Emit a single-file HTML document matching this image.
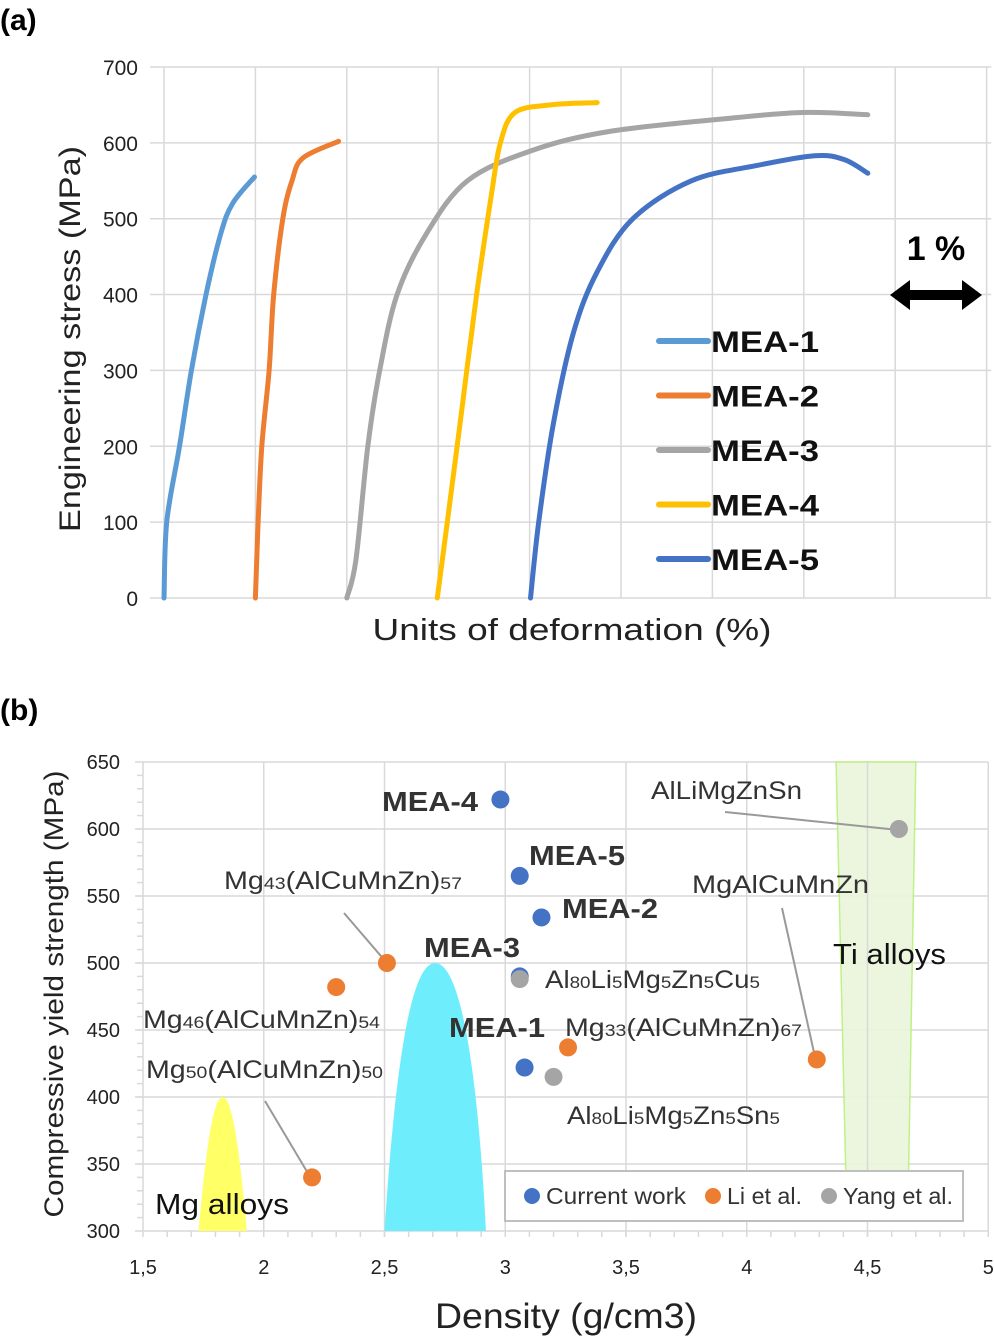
<!DOCTYPE html>
<html><head><meta charset="utf-8"><style>
html,body{margin:0;padding:0;background:#fff}
svg{display:block;font-family:"Liberation Sans",sans-serif}
</style></head><body>
<svg id="fig" width="994" height="1337" viewBox="0 0 994 1337">
<g id="pa"></g>
<g id="pb"></g>
</svg>
<script>
// ---------- Panel (a) data ----------
const aSeriesNames = ["MEA-1","MEA-2","MEA-3","MEA-4","MEA-5"];
const aStrain1 = [0,0.03,0.17,0.30,0.46,0.62,0.75,0.99];
const aStress1 = [0,100,200,300,400,480,520,555];
const aStrain2 = [1.0,1.03,1.07,1.15,1.20,1.30,1.40,1.52,1.91];
const aStress2 = [0,100,200,300,400,500,550,580,602];
const aStrain3 = [2.0,2.1,2.23,2.36,2.55,2.87,3.32,4.03,4.87,6.15,6.99,7.70];
const aStress3 = [0,50,200,300,400,480,550,590,615,632,640,637];
const aStrain4 = [2.99,3.10,3.26,3.42,3.58,3.68,3.84,4.23,4.74];
const aStress4 = [0,100,250,400,530,600,640,650,653];
const aStrain5 = [4.01,4.10,4.26,4.48,4.74,5.13,5.77,6.48,7.12,7.44,7.70];
const aStress5 = [0,100,230,350,430,500,550,570,583,578,560];
const aYTicks = [0,100,200,300,400,500,600,700];
// ---------- Panel (b) data ----------
const bXTicks = [1.5,2,2.5,3,3.5,4,4.5,5];
const bXTickLabels = ["1,5","2","2,5","3","3,5","4","4,5","5"];
const bYTicks = [300,350,400,450,500,550,600,650];
const bCurrentDensity = [2.98,3.06,3.15,3.06,3.08];
const bCurrentStrength = [622,565,534,490,422];
const bLiDensity = [2.51,2.30,3.26,4.29,2.20];
const bLiStrength = [500,482,437,428,340];
const bYangDensity = [4.63,3.06,3.20];
const bYangStrength = [600,488,415];

const NS="http://www.w3.org/2000/svg";
function mk(parent,tag,attrs,text){const e=document.createElementNS(NS,tag);for(const k in attrs)e.setAttribute(k,attrs[k]);if(text!==undefined)e.textContent=text;parent.appendChild(e);return e;}
function smooth(P){let d='M'+P[0][0].toFixed(1)+','+P[0][1].toFixed(1);
for(let i=0;i<P.length-1;i++){const p0=P[i-1]||P[i],p1=P[i],p2=P[i+1],p3=P[i+2]||p2;
const c1=[p1[0]+(p2[0]-p0[0])/6,p1[1]+(p2[1]-p0[1])/6],c2=[p2[0]-(p3[0]-p1[0])/6,p2[1]-(p3[1]-p1[1])/6];
d+=` C${c1[0].toFixed(1)},${c1[1].toFixed(1)} ${c2[0].toFixed(1)},${c2[1].toFixed(1)} ${p2[0].toFixed(1)},${p2[1].toFixed(1)}`;}
return d;}

// ===== Panel A =====
const pa=document.getElementById('pa');
const ax=v=>164+v*91.4, ay=v=>598-v*0.7586;
let t=mk(pa,'text',{x:0,y:30,'font-size':30,'font-weight':'bold'},'(a)');


for(let i=1;i<=9;i++){let l=mk(pa,'line',{x1:ax(i),x2:ax(i),y1:ay(700),y2:ay(0),stroke:'#d9d9d9','stroke-width':1.5});

}
aYTicks.forEach(v=>{let l=mk(pa,'line',{x1:150,x2:ax(9.05),y1:ay(v),y2:ay(v),stroke:'#d9d9d9','stroke-width':1.5});


let tt=mk(pa,'text',{x:138,y:ay(v)+8,'font-size':21,'text-anchor':'end',fill:'#222'},String(v));

});
let yax=mk(pa,'line',{x1:164,x2:164,y1:ay(700),y2:ay(0),stroke:'#d9d9d9','stroke-width':1.5});


const aColors=['#5b9bd5','#ed7d31','#a5a5a5','#ffc000','#4472c4'];
const aX=[aStrain1,aStrain2,aStrain3,aStrain4,aStrain5], aY=[aStress1,aStress2,aStress3,aStress4,aStress5];
aX.forEach((xs,i)=>{const P=xs.map((x,j)=>[ax(x),ay(aY[i][j])]);
let p=mk(pa,'path',{d:smooth(P),fill:'none',stroke:aColors[i],'stroke-width':5,'stroke-linejoin':'round','stroke-linecap':'round'});

});
aSeriesNames.forEach((n,i)=>{const y=341+i*54.5;
let g=mk(pa,'g',{});


mk(g,'line',{x1:659,x2:708,y1:y,y2:y,stroke:aColors[i],'stroke-width':6,'stroke-linecap':'round'});
mk(g,'text',{x:711,y:y+11,'font-size':30,'font-weight':'bold',fill:'#111',textLength:108,lengthAdjust:'spacingAndGlyphs'},n);});
let sc=mk(pa,'g',{});


mk(sc,'text',{x:936,y:260,'font-size':34,'font-weight':'bold','text-anchor':'middle'},'1 %');
mk(sc,'path',{d:'M890,295 L910,280 L910,290 L962,290 L962,280 L982,295 L962,310 L962,300 L910,300 L910,310 Z',fill:'#000'});
let at=mk(pa,'text',{x:0,y:0,'font-size':30,'text-anchor':'middle',transform:'translate(80,339) rotate(-90)',fill:'#222',textLength:386,lengthAdjust:'spacingAndGlyphs'},'Engineering  stress (MPa)');


let xt=mk(pa,'text',{x:572,y:640,'font-size':31,'text-anchor':'middle',fill:'#222',textLength:399,lengthAdjust:'spacingAndGlyphs'},'Units of deformation  (%)');



// ===== Panel B =====
const pb=document.getElementById('pb');
const bx=v=>143+(v-1.5)*241.5, by=v=>1231-(v-300)*1.34;
t=mk(pb,'text',{x:0,y:720,'font-size':30,'font-weight':'bold'},'(b)');


bXTicks.forEach((v,i)=>{let l=mk(pb,'line',{x1:bx(v),x2:bx(v),y1:by(650),y2:by(300)+6,stroke:'#d9d9d9','stroke-width':1.5});


let tt=mk(pb,'text',{x:bx(v),y:1274,'font-size':20,'text-anchor':'middle',fill:'#222'},bXTickLabels[i]);

});
for(let v=1.6;v<5;v+=0.1){mk(pb,'line',{x1:bx(v),x2:bx(v),y1:1231,y2:1237,stroke:'#d9d9d9','stroke-width':1.5});}
for(let v=310;v<650;v+=10){mk(pb,'line',{x1:137,x2:143,y1:by(v),y2:by(v),stroke:'#d9d9d9','stroke-width':1.5});}
bYTicks.forEach(v=>{let l=mk(pb,'line',{x1:135,x2:988,y1:by(v),y2:by(v),stroke:'#d9d9d9','stroke-width':1.5});


let tt=mk(pb,'text',{x:120,y:by(v)+7,'font-size':20,'text-anchor':'end',fill:'#222'},String(v));

});
// regions
let ti=mk(pb,'path',{d:`M${bx(4.37)},${by(650)} L${bx(4.70)},${by(650)} L${bx(4.67)},${by(344)} L${bx(4.41)},${by(344)} Z`,fill:'#eaf6dc',stroke:'#b8f07a','stroke-width':1.5,opacity:0.9});


mk(pb,'line',{x1:bx(4.5),x2:bx(4.5),y1:by(650),y2:by(344),stroke:'#d9d9d9','stroke-width':1.5});
let mg=mk(pb,'path',{d:`M${bx(1.73)},${by(300)} C${bx(1.76)},${by(360)} ${bx(1.79)},${by(400)} ${bx(1.83)},${by(400)} C${bx(1.87)},${by(400)} ${bx(1.90)},${by(360)} ${bx(1.93)},${by(300)} Z`,fill:'#ffff66'});


let al=mk(pb,'path',{d:`M${bx(2.50)},${by(300)} C${bx(2.55)},${by(440)} ${bx(2.62)},${by(500)} ${bx(2.71)},${by(500)} C${bx(2.80)},${by(500)} ${bx(2.88)},${by(440)} ${bx(2.92)},${by(300)} Z`,fill:'#6eeefc'});


// leader lines
[[725,812,899,830],[344,913,386,962],[265,1101,309,1175],[782,908,815,1057]].forEach(c=>{let l=mk(pb,'line',{x1:c[0],y1:c[1],x2:c[2],y2:c[3],stroke:'#999','stroke-width':2});

});
// points
function pts(xs,ys,col,name){xs.forEach((x,i)=>{let c=mk(pb,'circle',{cx:bx(x),cy:by(ys[i]),r:9,fill:col});

});}
pts(bLiDensity,bLiStrength,'#ed7d31','point-li-et-al');
pts(bCurrentDensity,bCurrentStrength,'#4472c4','point-current-work');
pts(bYangDensity,bYangStrength,'#a5a5a5','point-yang-et-al');
// labels
function lab(x,y,w,parts,opts){const tx=mk(pb,'text',Object.assign({x:x,y:y,'font-size':25,fill:'#333',textLength:w,lengthAdjust:'spacingAndGlyphs'},opts||{}));
parts.forEach(p=>{if(Array.isArray(p)){mk(tx,'tspan',{'font-size':17},p[0]);}else mk(tx,'tspan',{},p);});

return tx;}
const B={'font-weight':'bold','font-size':28};
lab(382,811,96,['MEA-4'],B);lab(529,865,96,['MEA-5'],B);lab(562,918,96,['MEA-2'],B);lab(424,957,96,['MEA-3'],B);lab(449,1037,96,['MEA-1'],B);
lab(651,799,151,['AlLiMgZnSn']);lab(692,893,177,['MgAlCuMnZn']);
lab(224,889,238,['Mg',['43'],'(AlCuMnZn)',['57']]);
lab(143,1028,237,['Mg',['46'],'(AlCuMnZn)',['54']]);
lab(146,1078,237,['Mg',['50'],'(AlCuMnZn)',['50']]);
lab(545,988,215,['Al',['80'],'Li',['5'],'Mg',['5'],'Zn',['5'],'Cu',['5']]);
lab(565,1036,237,['Mg',['33'],'(AlCuMnZn)',['67']]);
lab(567,1124,213,['Al',['80'],'Li',['5'],'Mg',['5'],'Zn',['5'],'Sn',['5']]);
lab(833,964,113,['Ti alloys'],{'font-size':29,fill:'#111'});
lab(155,1214,134,['Mg alloys'],{'font-size':29,fill:'#111'});
// legend
let lg=mk(pb,'g',{});


mk(lg,'rect',{x:505,y:1171,width:458,height:50,fill:'#fff',stroke:'#bfbfbf','stroke-width':2});
[['Current work','#4472c4',532,140],['Li et al.','#ed7d31',713,75],['Yang et al.','#a5a5a5',829,110]].forEach(e=>{
let g=mk(lg,'g',{});


mk(g,'circle',{cx:e[2],cy:1196,r:8,fill:e[1]});
mk(g,'text',{x:e[2]+14,y:1204,'font-size':23,fill:'#333',textLength:e[3],lengthAdjust:'spacingAndGlyphs'},e[0]);});
let byt=mk(pb,'text',{x:0,y:0,'font-size':27,'text-anchor':'middle',fill:'#222',transform:'translate(63,994) rotate(-90)',textLength:447,lengthAdjust:'spacingAndGlyphs'},'Compressive yield  strength (MPa)');


let bxt=mk(pb,'text',{x:566,y:1328,'font-size':35,'text-anchor':'middle',fill:'#222',textLength:262,lengthAdjust:'spacingAndGlyphs'},'Density (g/cm3)');


</script>
</body></html>
